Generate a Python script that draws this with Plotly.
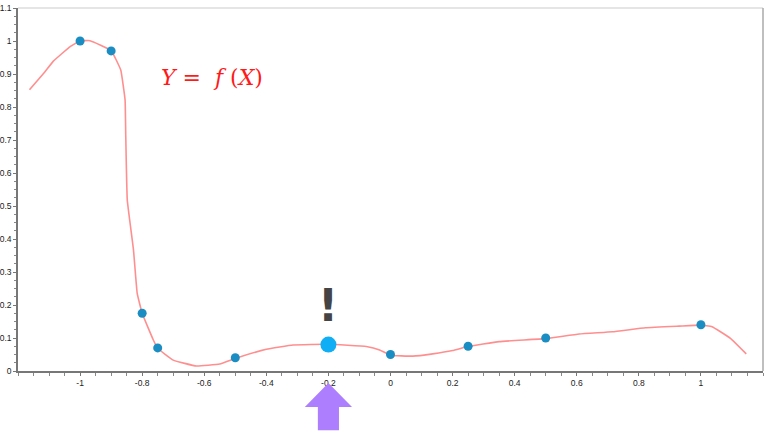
import plotly.graph_objects as go

# Curve samples
curve_x = [-1.163, -1.113, -1.086, -1.032, -1.0, -0.968, -0.9, -0.869, -0.855, -0.853,
           -0.848, -0.828, -0.816, -0.8, -0.764, -0.75, -0.70, -0.625, -0.55, -0.5,
           -0.4, -0.314, -0.2, -0.078, -0.035, 0.0, 0.072, 0.136, 0.2, 0.249, 0.35,
           0.498, 0.608, 0.715, 0.822, 0.929, 0.999, 1.036, 1.095, 1.146]
curve_y = [0.852, 0.907, 0.939, 0.983, 1.0, 1.001, 0.971, 0.912, 0.821, 0.72,
           0.518, 0.367, 0.235, 0.175, 0.094, 0.069, 0.033, 0.015, 0.021, 0.038,
           0.066, 0.079, 0.081, 0.074, 0.064, 0.048, 0.045, 0.052, 0.062, 0.074, 0.089,
           0.098, 0.112, 0.119, 0.131, 0.136, 0.139, 0.134, 0.099, 0.052]

# Sample points
pts_x = [-1.0, -0.9, -0.8, -0.75, -0.5, 0.0, 0.25, 0.5, 1.0]
pts_y = [1.0, 0.97, 0.175, 0.07, 0.04, 0.05, 0.075, 0.1, 0.14]

# Highlighted point
hi_x = [-0.2]
hi_y = [0.08]

x_ticks = [-1, -0.8, -0.6, -0.4, -0.2, 0, 0.2, 0.4, 0.6, 0.8, 1]
y_ticks = [0, 0.1, 0.2, 0.3, 0.4, 0.5, 0.6, 0.7, 0.8, 0.9, 1, 1.1]

fig = go.Figure()
fig.add_trace(go.Scatter(x=curve_x, y=curve_y, mode="lines",
                         line=dict(color="#FF8F8F", width=1.6, shape="spline", smoothing=0.3),
                         hoverinfo="skip"))
fig.add_trace(go.Scatter(x=pts_x, y=pts_y, mode="markers",
                         marker=dict(color="#1A8DC2", size=9)))
fig.add_trace(go.Scatter(x=hi_x, y=hi_y, mode="markers",
                         marker=dict(color="#10AEF5", size=16)))

axis_common = dict(showgrid=False, zeroline=False, showline=True, linecolor="#777777",
                   linewidth=1.5, ticks="outside", ticklen=3, tickcolor="#777777",
                   automargin=False,
                   tickfont=dict(family="Liberation Sans", size=8.5, color="#222222"))

fig.update_xaxes(range=[-1.2, 1.2], tickvals=x_ticks,
                 ticktext=[f"{v:g}" for v in x_ticks],
                 minor=dict(dtick=0.05, ticks="outside", ticklen=3, tickcolor="#888888"),
                 **axis_common)
fig.update_yaxes(range=[0, 1.1], tickvals=y_ticks,
                 ticktext=[f"{v:g}" for v in y_ticks],
                 minor=dict(dtick=0.025, ticks="outside", ticklen=2, tickcolor="#888888"),
                 **axis_common)

# top and right borders
fig.add_shape(type="line", xref="paper", yref="paper", x0=0, x1=1, y0=1, y1=1,
              line=dict(color="#DDDDDD", width=1.5))
fig.add_shape(type="line", xref="paper", yref="paper", x0=1, x1=1, y0=0, y1=1,
              line=dict(color="#AAAAAA", width=1.5))

# purple arrow under -0.2
ax = hi_x[0]
hw, sw = 0.076, 0.034
path = (f"M {ax},-0.033 L {ax+hw},-0.099 L {ax+sw},-0.099 L {ax+sw},-0.163 "
        f"L {ax-sw},-0.163 L {ax-sw},-0.099 L {ax-hw},-0.099 Z")
fig.add_shape(type="path", xref="x", yref="paper", path=path,
              fillcolor="#AD7EFD", line=dict(width=0))

fig.add_annotation(x=-0.575, y=0.888, xref="x", yref="y",
                   text="<i>Y</i> =  <i>f</i> (<i>X</i>)",
                   showarrow=False, font=dict(family="DejaVu Serif", size=22, color="#FF1A1A"))
fig.add_annotation(x=-0.2, y=0.2, xref="x", yref="y", text="<b>!</b>",
                   showarrow=False, font=dict(family="DejaVu Sans", size=44, color="#444444"))

fig.update_layout(width=768, height=434, margin=dict(l=18, r=5, t=8, b=63),
                  plot_bgcolor="white", paper_bgcolor="white", showlegend=False)

fig.write_html("out.html", config={"displayModeBar": False},
               post_script="document.body.style.margin='0';document.body.style.overflow='hidden';")
